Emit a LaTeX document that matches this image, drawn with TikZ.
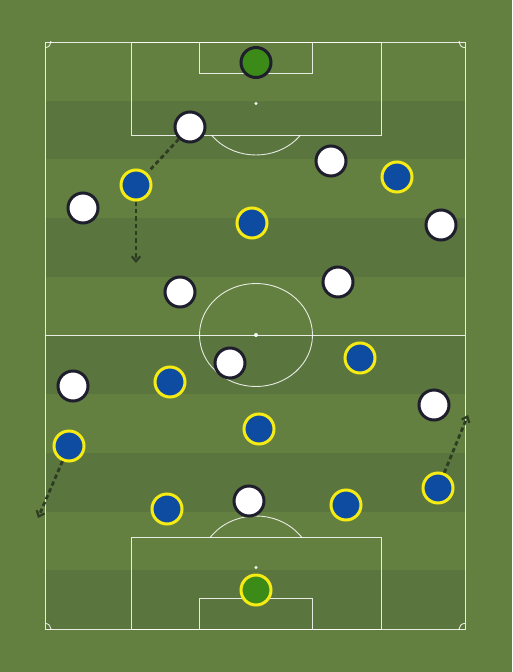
\documentclass[tikz,border=0pt]{standalone}
\usepackage{tikz}
\usetikzlibrary{arrows.meta,positioning}

\definecolor{grass}{RGB}{99,128,65}
\definecolor{grassdark}{RGB}{91,117,62}
\definecolor{kitblue}{RGB}{14,76,162}
\definecolor{kityellow}{RGB}{246,236,20}
\definecolor{kitdark}{RGB}{30,30,45}
\definecolor{keepergreen}{RGB}{60,138,24}
\definecolor{runline}{RGB}{45,60,35}

\tikzset{
    pitch line/.style={draw=white, draw opacity=0.85, line width=0.045cm},
    player/.style={circle, minimum size=1.5cm, inner sep=0pt, line width=0.15cm},
    white player/.style={player, fill=white, draw=kitdark},
    blue player/.style={player, fill=kitblue, draw=kityellow},
    run/.style={draw=runline, line width=0.14cm, dash pattern=on 0.22cm off 0.15cm,
        -{Straight Barb[length=0.25cm, width=0.42cm, line width=0.11cm]}}
}

\begin{document}
\begin{tikzpicture}[x=0.05cm, y=-0.05cm]
    % grass and stripes
    \fill[grass] (0,0) rectangle (512,672);
    \foreach \i in {1,3,5,7,9}
        \fill[grassdark] (45,{42+\i*58.7}) rectangle (465,{42+(\i+1)*58.7});

    % pitch markings
    \draw[pitch line] (45,42) rectangle (465,629);
    \draw[pitch line] (45,335) -- (465,335);
    \draw[pitch line] (256,335) ellipse [x radius=2.825cm, y radius=2.575cm];
    \fill[white] (256,335) circle (0.1cm);
    % top end
    \draw[pitch line] (131,42) rectangle (381,135);
    \draw[pitch line] (199,42) rectangle (312,73);
    \fill[white] (256,103.5) circle (0.08cm);
    \begin{scope}
        \clip (45,135) rectangle (465,200);
        \draw[pitch line] (256,103.5) ellipse [x radius=2.825cm, y radius=2.575cm];
    \end{scope}
    % bottom end
    \draw[pitch line] (131,537) rectangle (381,629);
    \draw[pitch line] (199,598) rectangle (312,629);
    \fill[white] (256,567.5) circle (0.08cm);
    \begin{scope}
        \clip (45,470) rectangle (465,537);
        \draw[pitch line] (256,567.5) ellipse [x radius=2.825cm, y radius=2.575cm];
    \end{scope}
    % corners
    \begin{scope}
        \clip (45,42) rectangle (465,629);
        \foreach \cx/\cy in {45/42, 465/42, 45/629, 465/629}
            \draw[pitch line] (\cx,\cy) ellipse [x radius=0.3cm, y radius=0.28cm];
    \end{scope}

    % white team
    \node[white player, fill=keepergreen] (wgk) at (256,62.5) {};
    \node[white player] (w1) at (190,127) {};
    \node[white player] (w2) at (331,161) {};
    \node[white player] (w3) at (83,208) {};
    \node[white player] (w4) at (441,225) {};
    \node[white player] (w5) at (180,292) {};
    \node[white player] (w6) at (338,282) {};
    \node[white player] (w7) at (230,363) {};
    \node[white player] (w8) at (73,386) {};
    \node[white player] (w9) at (434,405) {};
    \node[white player] (w10) at (249,501) {};

    % blue team
    \node[blue player] (b1) at (136,185) {};
    \node[blue player] (b2) at (397,177) {};
    \node[blue player] (b3) at (252,223) {};
    \node[blue player] (b4) at (360,358) {};
    \node[blue player] (b5) at (170,382) {};
    \node[blue player] (b6) at (259,429) {};
    \node[blue player] (b7) at (69,446) {};
    \node[blue player] (b8) at (438,488) {};
    \node[blue player] (b9) at (167,509) {};
    \node[blue player] (b10) at (346,505) {};
    \node[blue player, fill=keepergreen] (bgk) at (256,590) {};

    % runs
    \coordinate (r1) at (136,263);
    \coordinate (r2) at (38,518);
    \coordinate (r3) at (468,415);
    \draw[run, -, shorten >=0.25cm] (w1) -- (b1);
    \draw[run] (b1) -- (r1);
    \draw[run] (b7) -- (r2);
    \draw[run] (b8) -- (r3);
\end{tikzpicture}
\end{document}
